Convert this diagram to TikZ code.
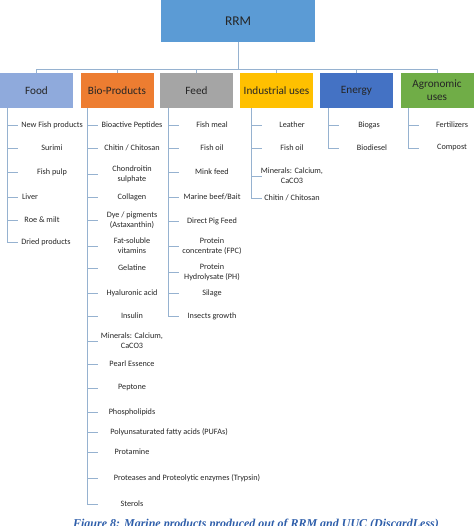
\documentclass[tikz,border=0pt]{standalone}
\usepackage{fontspec}
\setmainfont{Carlito}
\newfontfamily\capfont{Liberation Serif}
\usepackage{tikz}

\definecolor{rrmblue}{HTML}{5B9BD5}
\definecolor{foodblue}{HTML}{8FAADC}
\definecolor{bioorange}{HTML}{ED7D31}
\definecolor{feedgray}{HTML}{A5A5A5}
\definecolor{indgold}{HTML}{FFC000}
\definecolor{energyblue}{HTML}{4472C4}
\definecolor{agrogreen}{HTML}{70AD47}
\definecolor{linkblue}{RGB}{150,178,208}
\definecolor{capblue}{RGB}{46,94,170}

\newcommand{\leafnode}[6]{%
  \node[leaf] (#4) at (#5,#3) {#6};
  \coordinate (#4t) at (#2+11,#3);
  \draw[link] (#4t |- #1.south) ++(-11,0) |- (#4t);}

\begin{document}
\begin{tikzpicture}[x=1pt,y=-1pt]
  \tikzset{cat/.style={minimum width=73pt,minimum height=35pt,inner sep=1pt,align=center,
                       text=black!85,font=\fontsize{11.2}{13}\selectfont},
           leaf/.style={align=center,inner sep=0pt,text=black!85,font=\fontsize{8.2}{10}\selectfont},
           link/.style={draw=linkblue,line width=0.9pt}}
  \useasboundingbox (0,0) rectangle (474,526);
  \clip (0,0) rectangle (474,526);
  \node [cat,fill=rrmblue,minimum width=154pt,minimum height=42pt,font=\fontsize{13.4}{15}\selectfont] (rrm) at (238,21) {RRM};
  \node [cat,fill=foodblue] (food) at (36.5,90.5) {Food};
  \node [cat,fill=bioorange] (bio) at (117,90.5) {Bio-Products};
  \node [cat,fill=feedgray] (feed) at (196.5,90.5) {Feed};
  \node [cat,fill=indgold] (ind) at (276.5,90.5) {Industrial uses};
  \node [cat,fill=energyblue] (energy) at (356.5,90.5) {Energy};
  \node [cat,fill=agrogreen] (agro) at (437,90.5) {Agronomic\\uses};
  \foreach \c in {food,bio,feed,ind,energy,agro}
    \draw[link] (rrm.south) -- ++(0,27) -| (\c.north);

  \leafnode{food}{7}{125}{f1}{52}{New Fish products}
  \leafnode{food}{7}{148}{f2}{52}{Surimi}
  \leafnode{food}{7}{172}{f3}{52}{Fish pulp}
  \leafnode{food}{7}{197}{f4}{30}{Liver}
  \leafnode{food}{7}{220}{f5}{42}{Roe \& milt}
  \leafnode{food}{7}{242}{f6}{46}{Dried products}

  \leafnode{bio}{87}{125}{b1}{132}{Bioactive Peptides}
  \leafnode{bio}{87}{148}{b2}{132}{Chitin / Chitosan}
  \leafnode{bio}{87}{174}{b3}{132}{Chondroitin\\sulphate}
  \leafnode{bio}{87}{197}{b4}{132}{Collagen}
  \leafnode{bio}{87}{220}{b5}{132}{Dye / pigments\\(Astaxanthin)}
  \leafnode{bio}{87}{246}{b6}{132}{Fat-soluble\\vitamins}
  \leafnode{bio}{87}{268}{b7}{132}{Gelatine}
  \leafnode{bio}{87}{293}{b8}{132}{Hyaluronic acid}
  \leafnode{bio}{87}{316}{b9}{132}{Insulin}
  \leafnode{bio}{87}{341}{b10}{132}{Minerals: Calcium,\\CaCO3}
  \leafnode{bio}{87}{364}{b11}{132}{Pearl Essence}
  \leafnode{bio}{87}{388}{b12}{132}{Peptone}
  \leafnode{bio}{87}{412}{b13}{132}{Phospholipids}
  \leafnode{bio}{87}{432}{b14}{169}{Polyunsaturated fatty acids (PUFAs)}
  \leafnode{bio}{87}{452}{b15}{132}{Protamine}
  \leafnode{bio}{87}{478}{b16}{187}{Proteases and Proteolytic enzymes (Trypsin)}
  \leafnode{bio}{87}{504}{b17}{132}{Sterols}

  \leafnode{feed}{168}{125}{d1}{212}{Fish meal}
  \leafnode{feed}{168}{148}{d2}{212}{Fish oil}
  \leafnode{feed}{168}{172}{d3}{212}{Mink feed}
  \leafnode{feed}{168}{197}{d4}{212}{Marine beef/Bait}
  \leafnode{feed}{168}{221}{d5}{212}{Direct Pig Feed}
  \leafnode{feed}{168}{246}{d6}{212}{Protein\\concentrate (FPC)}
  \leafnode{feed}{168}{272}{d7}{212}{Protein\\Hydrolysate (PH)}
  \leafnode{feed}{168}{293}{d8}{212}{Silage}
  \leafnode{feed}{168}{316}{d9}{212}{Insects growth}

  \leafnode{ind}{251}{125}{i1}{292}{Leather}
  \leafnode{ind}{251}{148}{i2}{292}{Fish oil}
  \leafnode{ind}{251}{176}{i3}{292}{Minerals: Calcium,\\CaCO3}
  \leafnode{ind}{251}{198}{i4}{292}{Chitin / Chitosan}

  \leafnode{energy}{328}{125}{e1}{369}{Biogas}
  \leafnode{energy}{328}{148}{e2}{372}{Biodiesel}

  \leafnode{agro}{408}{125}{a1}{452}{Fertilizers}
  \leafnode{agro}{408}{148}{a2}{452}{Compost}

  \node [anchor=base,inner sep=0pt,text=capblue,font=\capfont\bfseries\itshape\fontsize{12}{14}\selectfont] (cap)
    at (256,527) {Figure 8: Marine products produced out of RRM and UUC (DiscardLess)};
\end{tikzpicture}
\end{document}
